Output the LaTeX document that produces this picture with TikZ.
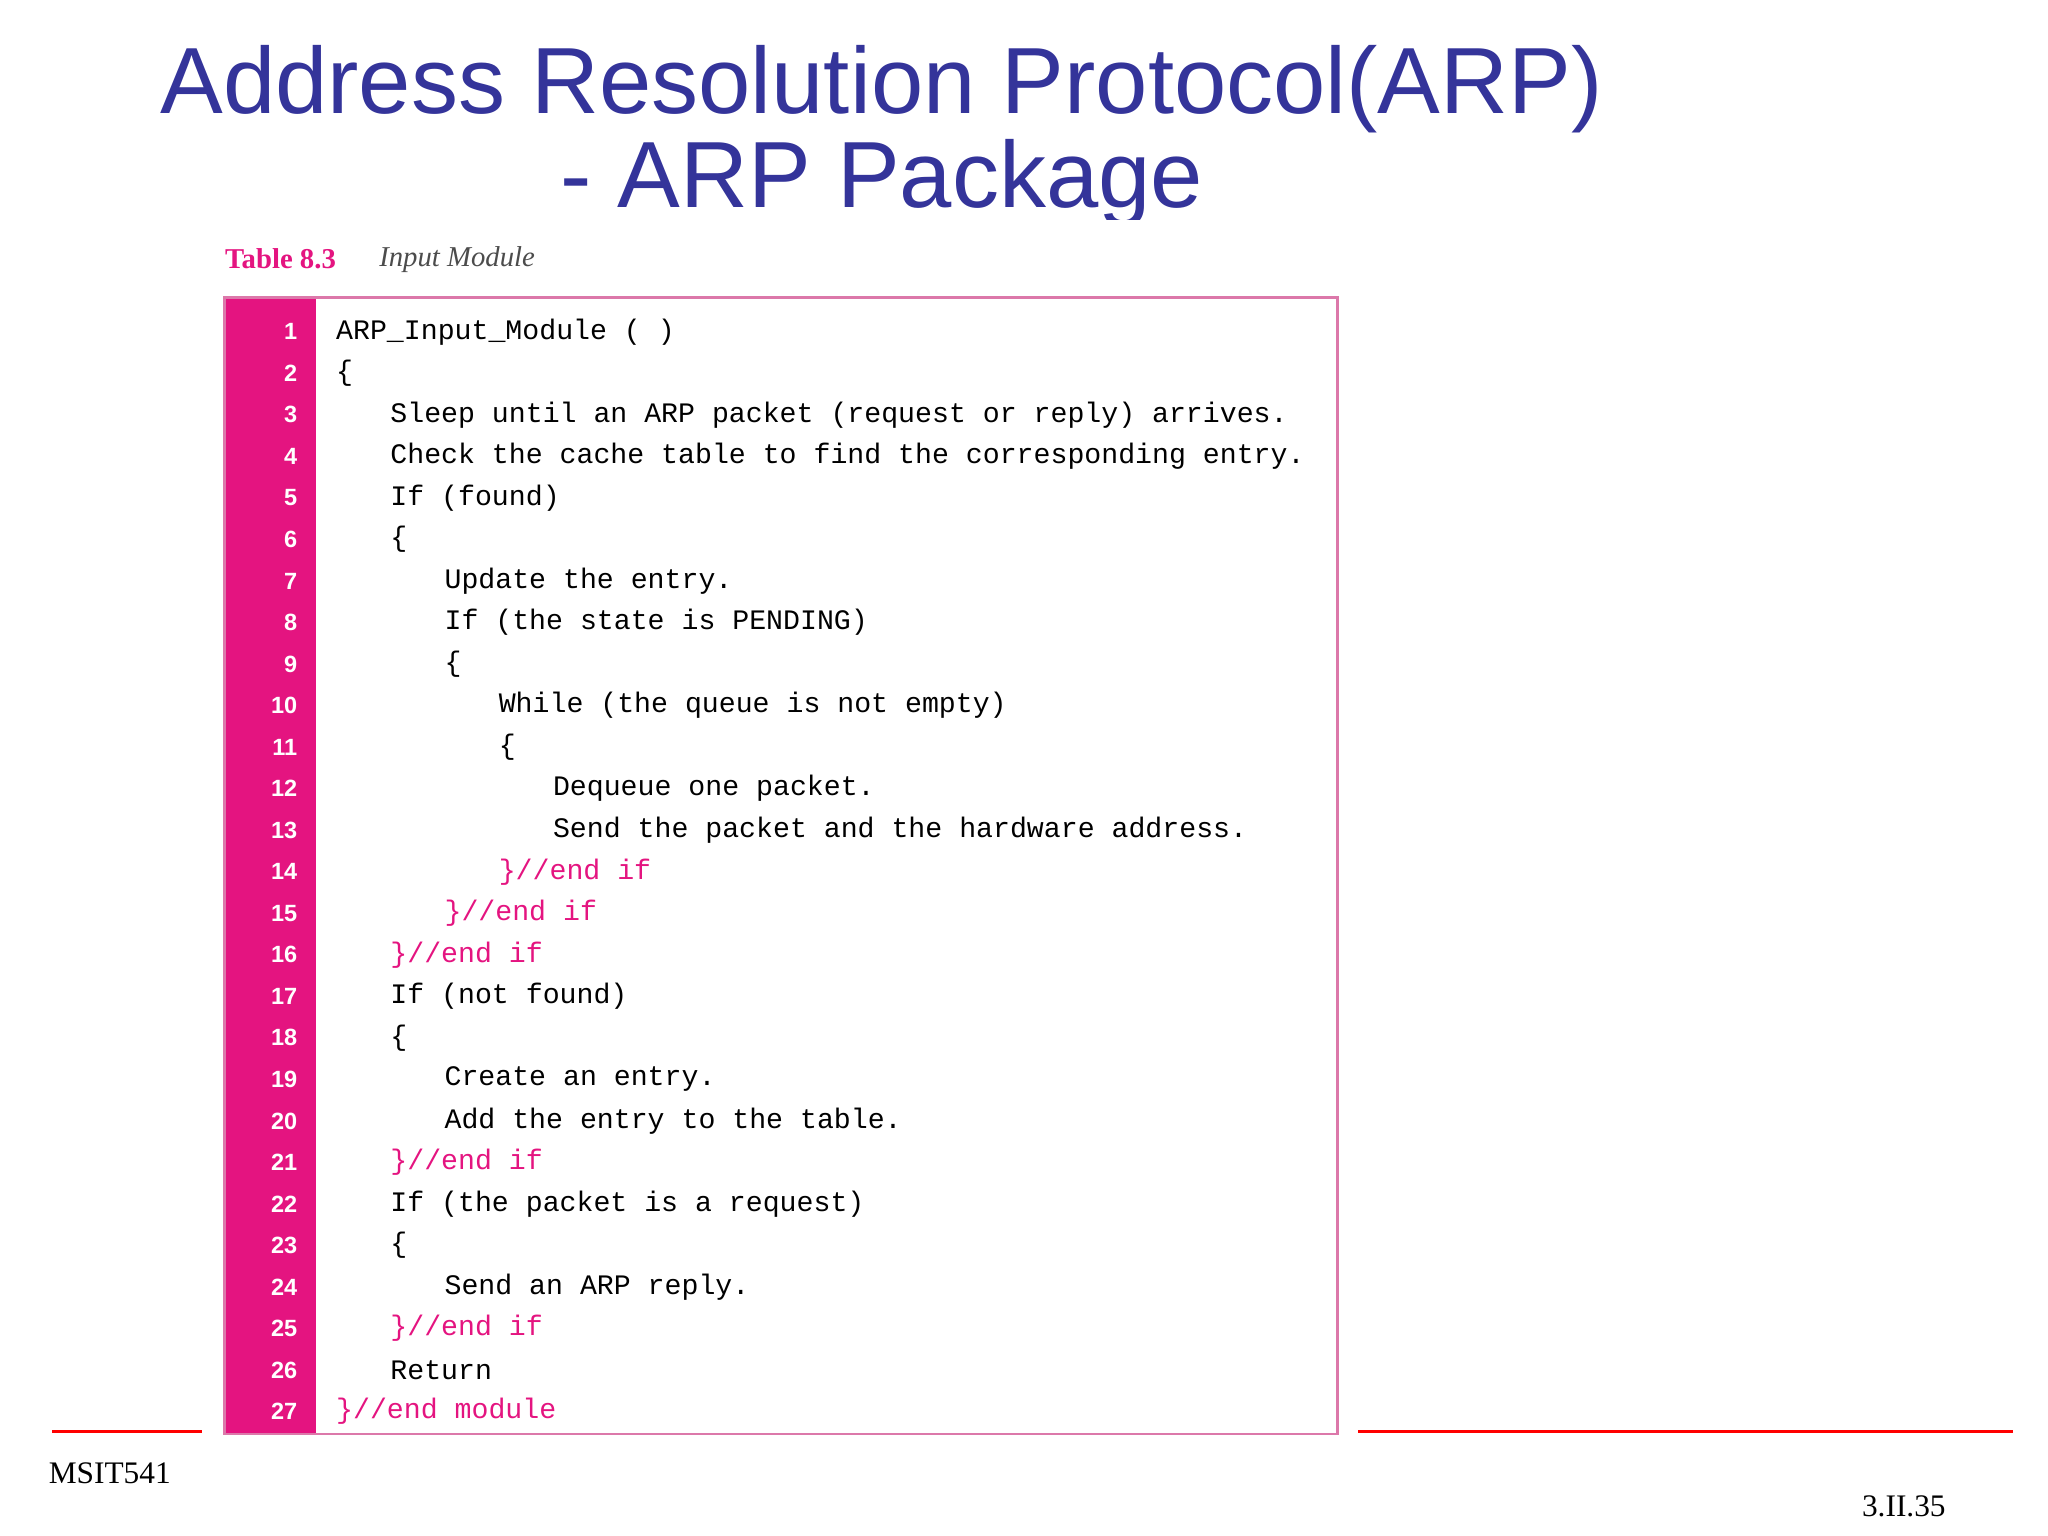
\documentclass[tikz,border=0pt]{standalone}
\usepackage{fontspec}
\setmainfont{Liberation Serif}
\setsansfont{Liberation Sans}
\setmonofont{Liberation Mono}
\definecolor{ttl}{RGB}{52,52,154}
\definecolor{mag}{RGB}{228,20,128}
\definecolor{brd}{RGB}{220,120,170}
\tikzset{num/.style={anchor=east,text=white,font=\sffamily\bfseries\fontsize{9}{9}\selectfont,inner sep=0},
code/.style={anchor=west,font=\ttfamily\fontsize{10.8}{11}\selectfont,inner sep=0},
cm/.style={text=mag}}
\begin{document}
\begin{tikzpicture}[x=0.5pt,y=-0.5pt]
\useasboundingbox (0,0) rectangle (1568,1176);
\begin{scope}
\clip (0,0) rectangle (1568,168);
\node (t1) at (675,68) {\sffamily\color{ttl}\fontsize{36}{36}\selectfont Address Resolution Protocol(ARP)};
\node (t2) at (675,140) {\sffamily\color{ttl}\fontsize{36}{36}\selectfont - ARP Package};
\end{scope}
\node[anchor=west,inner sep=0,text=mag] (cap) at (172,198) {\fontsize{11}{11}\selectfont\bfseries Table 8.3};
\node[anchor=west,inner sep=0,text=black!70] (cap2) at (290,199) {\fontsize{11}{11}\selectfont\itshape Input Module};
\fill[mag] (172,228) rectangle (242,1098);
\draw[brd,line width=1] (172,228) rectangle (1024,1098);
\draw[red,line width=1.5] (40,1096) -- (155,1096);
\draw[red,line width=1.5] (1040,1096) -- (1541,1096);
\foreach \i/\ind/\t/\c in {
1/0/{ARP\_Input\_Module ( )}/black,
2/0/\{/black,
3/1/{Sleep until an ARP packet (request or reply) arrives.}/black,
4/1/{Check the cache table to find the corresponding entry.}/black,
5/1/{If (found)}/black,
6/1/\{/black,
7/2/{Update the entry.}/black,
8/2/{If (the state is PENDING)}/black,
9/2/\{/black,
10/3/{While (the queue is not empty)}/black,
11/3/\{/black,
12/4/{Dequeue one packet.}/black,
13/4/{Send the packet and the hardware address.}/black,
14/3/{\}//end if}/mag,
15/2/{\}//end if}/mag,
16/1/{\}//end if}/mag,
17/1/{If (not found)}/black,
18/1/\{/black,
19/2/{Create an entry.}/black,
20/2/{Add the entry to the table.}/black,
21/1/{\}//end if}/mag,
22/1/{If (the packet is a request)}/black,
23/1/\{/black,
24/2/{Send an ARP reply.}/black,
25/1/{\}//end if}/mag,
26/1/{Return}/black,
27/0/{\}//end module}/mag}{
\pgfmathsetmacro\yy{254+(\i-1)*31.8}
\node[num] (n\i) at (228,\yy) {\i};
\node[code,text=\c] (c\i) at (257+\ind*41.5,\yy) {\t};
}
\node[anchor=west,inner sep=0] (ms) at (37,1128) {\fontsize{12}{12}\selectfont MSIT541};
\node[anchor=east,inner sep=0] (pg) at (1490,1153) {\fontsize{12}{12}\selectfont 3.II.35};
\end{tikzpicture}
\end{document}
